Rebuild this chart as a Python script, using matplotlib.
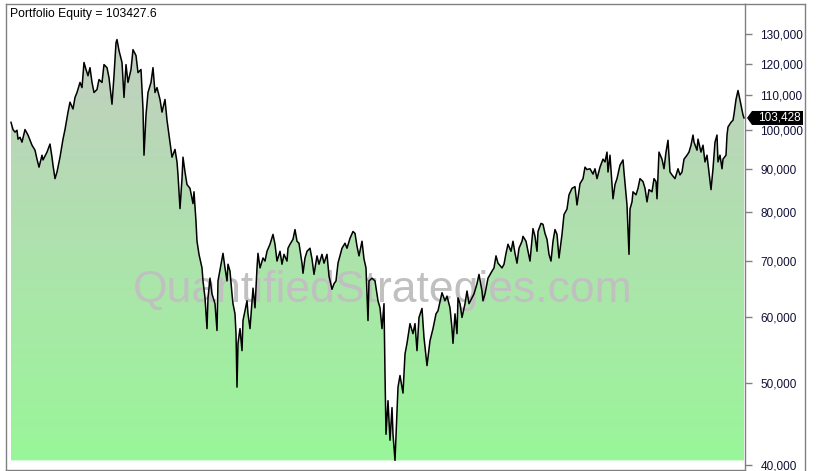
import matplotlib
matplotlib.use("Agg")
import matplotlib.pyplot as plt
import matplotlib.transforms as mtransforms
from matplotlib.colors import LinearSegmentedColormap
from matplotlib.lines import Line2D
from matplotlib.patches import Polygon
from matplotlib.ticker import FixedLocator, FuncFormatter, NullLocator
import numpy as np

plt.rcParams['font.family'] = ['Liberation Sans', 'DejaVu Sans']

# week number since start
weeks = [0, 2, 4, 6, 7, 9, 11, 14, 17, 21,
         24, 26, 28, 31, 32, 36, 39, 41, 42, 44,
         46, 49, 52, 54, 57, 59, 62, 64, 66, 69,
         71, 73, 75, 77, 79, 81, 83, 86, 88, 91,
         93, 96, 98, 101, 103, 105, 106, 108, 111, 113,
         115, 117, 120, 122, 125, 127, 130, 132, 133, 135,
         137, 140, 142, 144, 146, 149, 151, 154, 156, 159,
         161, 164, 166, 167, 169, 171, 172, 174, 176, 179,
         182, 183, 185, 186, 188, 191, 192, 194, 196, 197,
         199, 201, 204, 206, 207, 210, 212, 214, 216, 217,
         219, 221, 222, 224, 225, 226, 227, 229, 231, 232,
         234, 236, 237, 239, 241, 242, 244, 246, 247, 249,
         252, 254, 256, 259, 262, 264, 266, 269, 271, 273,
         276, 277, 279, 282, 284, 286, 288, 291, 292, 294,
         296, 299, 301, 303, 306, 308, 311, 313, 316, 318,
         321, 323, 325, 327, 331, 334, 336, 339, 342, 344,
         346, 348, 351, 353, 355, 357, 358, 361, 364, 367,
         369, 371, 373, 374, 375, 377, 379, 381, 382, 384,
         386, 387, 389, 392, 394, 396, 399, 402, 404, 406,
         408, 411, 413, 416, 419, 422, 425, 427, 431, 434,
         436, 439, 441, 442, 444, 446, 447, 449, 451, 454,
         456, 458, 461, 463, 466, 468, 471, 472, 474, 477,
         481, 483, 485, 487, 491, 493, 495, 497, 500, 502,
         504, 506, 508, 511, 512, 515, 517, 519, 521, 522,
         524, 526, 527, 530, 532, 534, 536, 538, 540, 542,
         544, 546, 548, 551, 553, 556, 558, 561, 564, 566,
         569, 572, 574, 576, 579, 582, 584, 586, 589, 592,
         594, 596, 597, 599, 601, 602, 604, 606, 609, 612,
         613, 615, 616, 618, 619, 621, 622, 625, 627, 629,
         632, 634, 636, 638, 641, 643, 645, 646, 648, 651,
         653, 655, 657, 659, 661, 664, 667, 669, 671, 673,
         676, 678, 680, 682, 683, 686, 687, 690, 692, 694,
         696, 698, 700, 702, 704, 706, 707, 709, 711, 712,
         715, 716, 717, 720, 722, 723, 725, 727, 728, 730,
         732, 733]

# portfolio equity in thousands of dollars
equity_k = [102.2, 100.2, 99.5, 100.0, 97.6, 98.1, 96.8, 100.2, 98.7, 96.0,
            94.7, 92.4, 90.4, 93.4, 92.2, 94.2, 96.3, 92.9, 90.9, 87.6,
            89.2, 92.9, 97.6, 100.2, 105.1, 108.0, 106.0, 109.4, 110.9, 114.0,
            112.4, 120.4, 118.1, 116.1, 118.7, 114.0, 110.9, 111.8, 114.9, 114.0,
            119.7, 118.7, 115.5, 107.4, 116.1, 127.1, 128.2, 124.4, 120.4, 109.4,
            119.7, 114.0, 118.1, 124.7, 122.7, 117.1, 118.1, 106.0, 93.4, 104.3,
            110.9, 114.0, 118.7, 110.9, 112.4, 108.8, 105.1, 108.8, 102.8, 96.8,
            92.9, 94.9, 91.7, 88.5, 80.7, 87.6, 92.9, 89.2, 86.2, 85.3,
            81.8, 84.5, 77.9, 73.8, 71.2, 68.6, 66.2, 63.2, 58.1, 63.2,
            66.7, 63.9, 62.2, 57.8, 66.2, 69.3, 71.4, 68.6, 66.2, 69.3,
            68.0, 63.9, 62.2, 60.5, 57.3, 49.5, 55.8, 58.1, 54.7, 59.4,
            61.0, 62.7, 60.5, 58.1, 62.7, 64.9, 61.5, 68.6, 71.4, 68.6,
            70.5, 69.9, 71.8, 73.2, 75.2, 73.2, 69.9, 71.8, 69.3, 71.2,
            69.9, 72.4, 73.2, 74.2, 76.2, 73.8, 73.4, 69.5, 67.6, 70.5,
            71.8, 72.4, 70.3, 67.4, 70.9, 69.3, 71.2, 69.5, 71.2, 67.1,
            64.7, 65.7, 66.2, 69.5, 72.4, 73.4, 72.4, 74.4, 75.8, 75.4,
            72.8, 70.9, 73.8, 70.3, 68.6, 59.4, 66.2, 66.7, 66.2, 62.7,
            61.5, 58.1, 62.2, 51.4, 43.5, 47.7, 42.8, 46.8, 43.5, 40.5,
            46.5, 49.5, 51.1, 48.7, 54.2, 55.8, 58.9, 57.3, 58.9, 54.7,
            59.9, 61.4, 56.7, 52.5, 56.2, 58.1, 60.5, 61.0, 64.1, 62.7,
            63.5, 61.5, 58.1, 55.8, 60.5, 57.3, 63.2, 62.2, 59.9, 62.2,
            64.4, 62.2, 63.2, 63.9, 65.7, 67.4, 64.4, 62.7, 63.9, 66.7,
            68.0, 68.6, 70.9, 69.5, 68.6, 69.3, 71.4, 73.2, 71.8, 73.8,
            71.4, 69.5, 72.4, 73.8, 74.8, 73.8, 71.8, 69.9, 74.2, 76.4,
            74.8, 71.8, 75.8, 77.5, 77.3, 75.4, 74.2, 71.2, 69.9, 73.8,
            76.2, 75.2, 70.5, 75.2, 79.4, 80.6, 83.8, 85.3, 85.7, 81.5,
            86.4, 87.6, 90.4, 89.8, 90.0, 88.7, 90.0, 87.6, 90.4, 92.4,
            91.7, 94.2, 89.2, 93.4, 86.2, 82.9, 86.2, 87.6, 90.9, 92.2,
            89.2, 83.8, 81.5, 71.2, 80.6, 82.2, 84.5, 83.8, 85.3, 87.6,
            86.9, 85.3, 82.2, 85.0, 84.5, 87.6, 86.9, 82.9, 94.2, 92.4,
            90.0, 94.2, 97.3, 89.2, 88.5, 87.6, 90.0, 88.5, 89.2, 92.4,
            93.4, 94.2, 96.0, 98.7, 96.8, 94.7, 97.6, 94.2, 96.0, 91.7,
            93.4, 89.2, 85.0, 90.0, 96.8, 98.7, 91.7, 93.4, 90.0, 92.4,
            93.4, 98.7, 100.9, 102.2, 102.8, 104.5, 108.8, 111.5, 110.1, 107.1,
            104.3, 103.4276]

tick_values = [40000, 50000, 60000, 70000, 80000, 90000,
               100000, 110000, 120000, 130000]
title = "Portfolio Equity"
watermark = "QuantifiedStrategies.com"

equity = np.array(equity_k) * 1000
last = equity[-1]

W, H = 820, 471
frame = '#808080'
fig = plt.figure(figsize=(W / 100, H / 100), dpi=100)
ax = fig.add_axes([6 / W, 1 - 470 / H, (745 - 6) / W, (470 - 4) / H])
ax.set_yscale('log')

# gradient fill under the equity curve
poly = ax.fill_between(weeks, equity, equity.min(), facecolor='none', lw=0)
grad = np.linspace(0, 1, 256).reshape(-1, 1)
cmap = LinearSegmentedColormap.from_list('eq', ['#98f798', '#c6cbc4'])
img = ax.imshow(grad, cmap=cmap, origin='lower', extent=(0, 1, 0, 1),
                transform=ax.transAxes, aspect='auto', zorder=1,
                interpolation='bilinear')
img.set_clip_path(poly.get_paths()[0], ax.transData)

ax.text(0.51, (470 - 302) / 466, watermark, transform=ax.transAxes,
        ha='center', va='baseline', fontsize=32, color='#c0c0c0', zorder=2)

ax.plot(weeks, equity, color='black', lw=1.1, zorder=3)

ax.set_xlim(-5, 734)
ax.set_ylim(39450, 141300)

ax.set_xticks([])
ax.yaxis.tick_right()
ax.yaxis.set_major_locator(FixedLocator(tick_values))
ax.yaxis.set_minor_locator(NullLocator())
ax.yaxis.set_major_formatter(FuncFormatter(lambda v, p: f'{v:,.0f}'))
ax.tick_params(axis='y', direction='out', length=5, width=1, color=frame,
               pad=6, labelsize=8.5, labelcolor='#101038')
for sp in ax.spines.values():
    sp.set_color(frame)
    sp.set_linewidth(1)

# outer frame of the price scale
fig.add_artist(Line2D([805 / W, 805 / W], [0, 1 - 4 / H], color=frame, lw=1))
fig.add_artist(Line2D([745 / W, 805 / W], [1 - 4 / H, 1 - 4 / H], color=frame, lw=1))

fig.text(10 / W, 1 - 17 / H, f'{title} = {last:.1f}', fontsize=8.7,
         color='black', va='baseline')

# last value marker on the price scale
blend = mtransforms.blended_transform_factory(ax.transAxes, ax.transData)
at_last = mtransforms.ScaledTranslation(1.0, last, blend)
tag = Polygon([(2, 0), (7, 7), (58, 7), (58, -7), (7, -7)],
              closed=True, facecolor='black', edgecolor='none',
              transform=at_last, clip_on=False, zorder=5)
fig.add_artist(tag)
fig.text(13, 0, f'{last:,.0f}', transform=at_last, color='white',
         fontsize=8.5, va='center', ha='left', zorder=6)

fig.savefig('out.png', dpi=100, facecolor='white')
